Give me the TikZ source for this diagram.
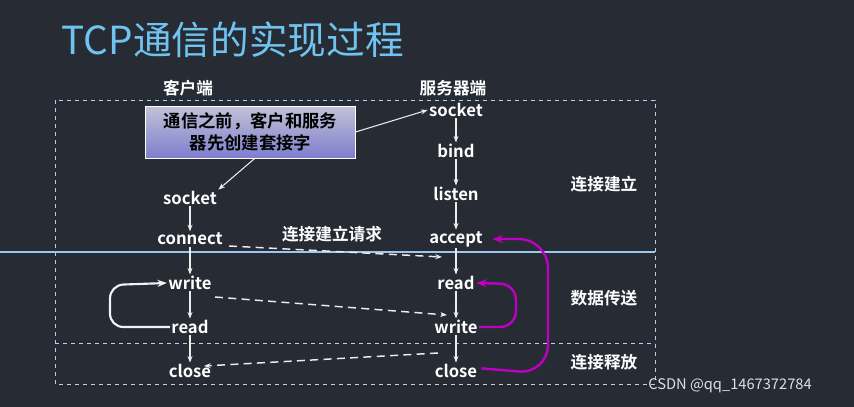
\documentclass[tikz,border=0pt]{standalone}
\usepackage{fontspec}
\setmainfont{Noto Sans CJK SC}[BoldFont={* Bold}]
\usetikzlibrary{arrows.meta}
\definecolor{bg}{HTML}{262B34}
\definecolor{ttl}{HTML}{6FC3EE}
\definecolor{mag}{HTML}{C000C0}
\definecolor{lineb}{HTML}{9CC8F0}
\begin{document}
\begin{tikzpicture}[x=0.75pt,y=-0.75pt,
  lbl/.style={text=white,font=\bfseries\fontsize{12.5}{14}\selectfont,inner sep=1pt},
  arr/.style={draw=white!85!gray,-{Stealth[length=5pt]},line width=0.8pt},
  darr/.style={arr,dashed,dash pattern=on 6pt off 4pt,line width=1.1pt},
  marr/.style={draw=mag,line width=1.8pt,-{Stealth[length=8pt]},rounded corners=12pt}]
\fill[bg] (0,0) rectangle (854,407);
\useasboundingbox (0,0) rectangle (854,407);
\node[anchor=west,text=ttl,font=\fontsize{29}{34}\selectfont] (title) at (57,40) {TCP通信的实现过程};
\node[lbl] (ch) at (188,88) {客户端};
\node[lbl] (sh) at (453,88) {服务器端};
\draw[lineb!80!white,dashed,line width=0.5pt] (55,100) rectangle (655,384);
\draw[lineb!80!white,dashed,line width=0.5pt] (55,343) -- (655,343);
\draw[lineb,line width=0.8pt] (0,252) -- (655,252);
\node[lbl] (cs) at (190,198) {socket};
\node[lbl] (cc) at (190,239) {connect};
\node[lbl] (cw) at (190,283) {write};
\node[lbl] (cr) at (190,327) {read};
\node[lbl] (ccl) at (190,371) {close};
\node[lbl] (ss) at (456,110) {socket};
\node[lbl] (sb) at (456,151) {bind};
\node[lbl] (sl) at (456,194) {listen};
\node[lbl] (sa) at (456,239) {accept};
\node[lbl] (sr) at (456,283) {read};
\node[lbl] (sw) at (456,327) {write};
\node[lbl] (scl) at (456,371) {close};
\node[lbl] (l1) at (604,184) {连接建立};
\node[lbl] (l2) at (604,298) {数据传送};
\node[lbl] (l3) at (604,362) {连接释放};
\node[lbl] (req) at (332,234) {连接建立请求};
\node[text=white!75!gray,font=\fontsize{11}{12}\selectfont,inner sep=0] (wm) at (730,386) {CSDN @qq\_1467372784};
\node[draw=white,line width=0.6pt,top color=blue!20!gray!40!white,bottom color=blue!45!gray!70!white,
  minimum width=157pt,minimum height=39pt,align=center,font=\bfseries\fontsize{13}{17}\selectfont,text=black] (box) at (250.5,132) {通信之前，客户和服务\\器先创建套接字};
\coordinate (d1s) at (229,246); \coordinate (d1e) at (442,257);
\coordinate (d2s) at (215,297); \coordinate (d2e) at (447,315);
\coordinate (d3s) at (438,353); \coordinate (d3e) at (204,366);
\foreach \a/\b in {cs/cc,cc/cw,cw/cr,cr/ccl,ss/sb,sb/sl,sl/sa,sa/sr,sr/sw,sw/scl}
  \draw[arr] (\a) -- (\b);
\draw[arr] (box.south west) ++(82pt,0) -- (cs.north east);
\draw[arr] (box.east) -- (ss.west);
\draw[darr] (d1s) -- (d1e);
\draw[darr] (d2s) -- (d2e);
\draw[darr] (d3s) -- (d3e);
\draw[draw=white!90!gray,line width=1.6pt,-{Stealth[length=7pt]},rounded corners=10pt] (cr.west) -- (110,327) -- (110,285) -- (cw.west);
\draw[marr] (sw.east) -- (516,327) -- (516,284) -- (sr.east);
\draw[marr,rounded corners=22pt] ([xshift=2pt,yshift=2pt]scl.east) -- (548,374) -- (548,239) -- ([xshift=6pt]sa.east);
\end{tikzpicture}
\end{document}
